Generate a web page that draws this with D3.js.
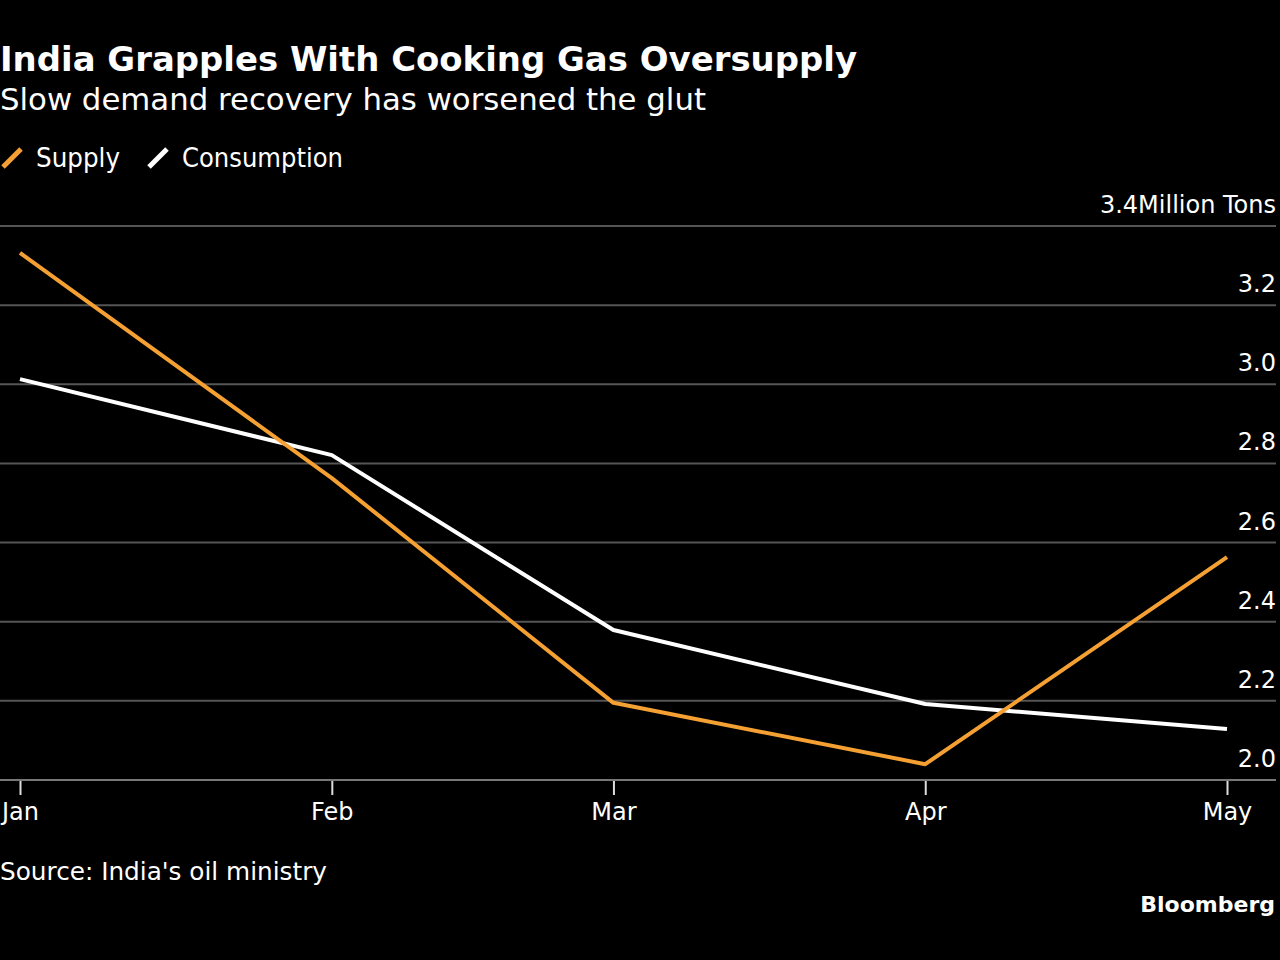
<!DOCTYPE html>
<html>
<head>
<meta charset="utf-8">
<script src="https://cdn.jsdelivr.net/npm/d3@7"></script>
<style>
  body { margin: 0; background: #000; }
  svg { display: block; font-family: "DejaVu Sans", sans-serif; }
</style>
</head>
<body>
<svg id="chart" width="1280" height="960"></svg>
<script>
var months = ["2021-01-01", "2021-02-01", "2021-03-01", "2021-04-01", "2021-05-01"];
var supply = [3.332, 2.763, 2.195, 2.040, 2.563];
var consumption = [3.013, 2.821, 2.379, 2.192, 2.129];
var yTicks = [2.0, 2.2, 2.4, 2.6, 2.8, 3.0, 3.2, 3.4];
var monthLabels = ["Jan", "Feb", "Mar", "Apr", "May"];

var parse = d3.timeParse("%Y-%m-%d");
var dates = months.map(parse);

var svg = d3.select("#chart");

var x = d3.scaleTime()
  .domain([dates[0], dates[dates.length - 1]])
  .range([20, 1227]);

var y = d3.scaleLinear()
  .domain([2.0, 3.4])
  .range([780, 226]);

// titles
svg.append("text").attr("x", 0).attr("y", 71)
  .attr("fill", "#fff").attr("font-size", 34).attr("font-weight", "bold")
  .attr("textLength", 857).attr("lengthAdjust", "spacingAndGlyphs")
  .text("India Grapples With Cooking Gas Oversupply");
svg.append("text").attr("x", 0).attr("y", 110)
  .attr("fill", "#fff").attr("font-size", 31)
  .attr("textLength", 706).attr("lengthAdjust", "spacingAndGlyphs")
  .text("Slow demand recovery has worsened the glut");

// legend
var legend = [
  {name: "Supply", color: "#f5a033", x: 2, w: 118},
  {name: "Consumption", color: "#ffffff", x: 148, w: 195}
];
var lg = svg.selectAll("g.legend").data(legend).enter().append("g").attr("class", "legend");
lg.append("line")
  .attr("x1", d => d.x + 1).attr("y1", 167).attr("x2", d => d.x + 19).attr("y2", 149)
  .attr("stroke", d => d.color).attr("stroke-width", 5);
lg.append("text")
  .attr("x", d => d.x + 34).attr("y", 167)
  .attr("fill", "#fff").attr("font-size", 26)
  .attr("textLength", d => d.w - 34).attr("lengthAdjust", "spacingAndGlyphs")
  .text(d => d.name);

// grid
svg.selectAll("line.grid").data(yTicks).enter().append("line")
  .attr("class", "grid")
  .attr("x1", 0).attr("x2", 1276)
  .attr("y1", d => y(d)).attr("y2", d => y(d))
  .attr("stroke", d => d === 2.0 ? "#777" : "#555").attr("stroke-width", 2);

// y labels
svg.selectAll("text.ylab").data(yTicks).enter().append("text")
  .attr("class", "ylab")
  .attr("x", 1276).attr("y", d => y(d) - 13)
  .attr("text-anchor", "end")
  .attr("fill", "#fff").attr("font-size", 24)
  .text(d => d === 3.4 ? "3.4Million Tons" : d.toFixed(1));

// x axis
var xAxis = d3.axisBottom(x)
  .tickValues(dates)
  .tickSize(14)
  .tickFormat((d, i) => monthLabels[i]);
var gx = svg.append("g").attr("transform", "translate(0,781)").call(xAxis);
gx.select(".domain").remove();
gx.selectAll(".tick line").attr("stroke", "#ddd").attr("stroke-width", 2);
gx.selectAll(".tick text")
  .attr("fill", "#fff").attr("font-size", 24)
  .attr("font-family", "DejaVu Sans, sans-serif")
  .attr("dy", "0.9em");

// lines
var line = d3.line().x((d, i) => x(dates[i])).y(d => y(d));
svg.append("path").datum(consumption)
  .attr("fill", "none").attr("stroke", "#fff").attr("stroke-width", 4)
  .attr("stroke-linejoin", "round").attr("d", line);
svg.append("path").datum(supply)
  .attr("fill", "none").attr("stroke", "#f5a033").attr("stroke-width", 4)
  .attr("stroke-linejoin", "round").attr("d", line);

// footer
svg.append("text").attr("x", 0).attr("y", 880)
  .attr("fill", "#fff").attr("font-size", 25)
  .attr("textLength", 327).attr("lengthAdjust", "spacingAndGlyphs")
  .text("Source: India's oil ministry");
svg.append("text").attr("x", 1275).attr("y", 912)
  .attr("text-anchor", "end")
  .attr("fill", "#fff").attr("font-size", 22).attr("font-weight", "bold")
  .text("Bloomberg");
</script>
</body>
</html>
